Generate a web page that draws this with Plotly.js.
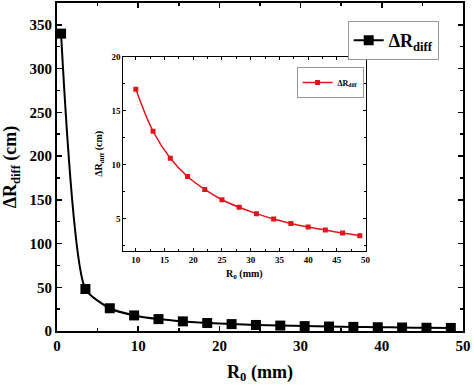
<!DOCTYPE html>
<html>
<head>
<meta charset="utf-8">
<script src="https://cdn.plot.ly/plotly-3.0.1.min.js"></script>
<style>html,body{margin:0;padding:0;background:#fff;}#chart{width:474px;height:386px;}</style>
</head>
<body>
<div id="chart"></div>
<script>
// Main chart data
const mainR0 = [0.5, 3.5, 6.5, 9.5, 12.5, 15.5, 18.5, 21.5, 24.5, 27.5, 30.5, 33.5, 36.5, 39.5, 42.5, 45.5, 48.5];
const mainDR = [340, 48, 26, 17.8, 13.6, 11, 9.1, 7.9, 6.9, 6.2, 5.6, 5.1, 4.7, 4.3, 4.0, 3.7, 3.5];
// Inset data
const insetR0 = [10, 13, 16, 19, 22, 25, 28, 31, 34, 37, 40, 43, 46, 49];
const insetDR = [17.0, 13.1, 10.6, 8.9, 7.7, 6.75, 6.05, 5.46, 4.96, 4.55, 4.22, 3.94, 3.66, 3.42];
const seriesName = 'ΔR<sub>diff</sub>';
const xTitle = 'R<sub>0</sub> (mm)';
const yTitle = 'ΔR<sub>diff</sub> (cm)';

const FONT = 'Liberation Serif, Times New Roman, serif';
const RED = '#e3141c';

const traces = [
  {
    x: mainR0, y: mainDR, type: 'scatter', mode: 'lines+markers', name: seriesName,
    line: {color: '#000', width: 2, shape: 'spline', smoothing: 0.6},
    marker: {symbol: 'square', size: 10, color: '#000'},
    xaxis: 'x', yaxis: 'y', legend: 'legend'
  },
  {
    x: insetR0, y: insetDR, type: 'scatter', mode: 'lines+markers', name: seriesName,
    line: {color: RED, width: 1.5, shape: 'spline'},
    marker: {symbol: 'square', size: 5, color: RED},
    xaxis: 'x2', yaxis: 'y2', legend: 'legend2'
  }
];

const axBase = {
  showline: true, linecolor: '#000', mirror: 'ticks', ticks: 'inside',
  tickcolor: '#000', showgrid: false, zeroline: false, fixedrange: true
};

const layout = {
  width: 474, height: 386,
  margin: {l: 57, r: 11, t: 3, b: 55},
  paper_bgcolor: '#fff', plot_bgcolor: '#fff',
  font: {family: FONT, color: '#000', weight: 700},
  xaxis: Object.assign({}, axBase, {
    domain: [0, 1], range: [0, 50], dtick: 10, tick0: 0,
    ticklen: 5, linewidth: 2, tickwidth: 1.5,
    minor: {dtick: 5, ticklen: 3, ticks: 'inside', tickcolor: '#000'},
    tickfont: {family: FONT, size: 15, weight: 700},
    title: {text: xTitle, font: {family: FONT, size: 18, weight: 700}, standoff: 12},
    anchor: 'y'
  }),
  yaxis: Object.assign({}, axBase, {
    domain: [0, 1], range: [0, 375], dtick: 50, tick0: 0,
    ticklen: 5, linewidth: 2, tickwidth: 1.5,
    minor: {dtick: 25, ticklen: 3, ticks: 'inside', tickcolor: '#000'},
    tickfont: {family: FONT, size: 15, weight: 700},
    title: {text: yTitle, font: {family: FONT, size: 18, weight: 700}, standoff: 8},
    anchor: 'x'
  }),
  xaxis2: Object.assign({}, axBase, {
    domain: [0.163, 0.760], range: [7.8, 50], dtick: 5, tick0: 0,
    ticklen: 3, linewidth: 1, tickwidth: 1,
    minor: {dtick: 2.5, ticklen: 2, ticks: 'inside', tickcolor: '#000'},
    tickfont: {family: FONT, size: 9, weight: 700},
    title: {text: xTitle, font: {family: FONT, size: 10, weight: 700}, standoff: 6},
    anchor: 'y2'
  }),
  yaxis2: Object.assign({}, axBase, {
    domain: [0.244, 0.836], range: [2, 20], dtick: 5, tick0: 0,
    ticklen: 3, linewidth: 1, tickwidth: 1,
    minor: {dtick: 2.5, ticklen: 2, ticks: 'inside', tickcolor: '#000'},
    tickfont: {family: FONT, size: 9, weight: 700},
    title: {text: yTitle, font: {family: FONT, size: 10, weight: 700}, standoff: 6},
    anchor: 'x2'
  }),
  legend: {
    x: 0.716, y: 0.945, xanchor: 'left', yanchor: 'top',
    bgcolor: '#fff', bordercolor: '#999', borderwidth: 1,
    font: {family: FONT, size: 18, weight: 700}, itemwidth: 30,
    tracegroupgap: 0
  },
  legend2: {
    x: 0.59, y: 0.805, xanchor: 'left', yanchor: 'top',
    bgcolor: '#fff', bordercolor: '#999', borderwidth: 1,
    font: {family: FONT, size: 8, weight: 700}, itemwidth: 30,
    tracegroupgap: 0
  },
  showlegend: true
};

Plotly.newPlot('chart', traces, layout, {staticPlot: true, displayModeBar: false});
</script>
</body>
</html>
